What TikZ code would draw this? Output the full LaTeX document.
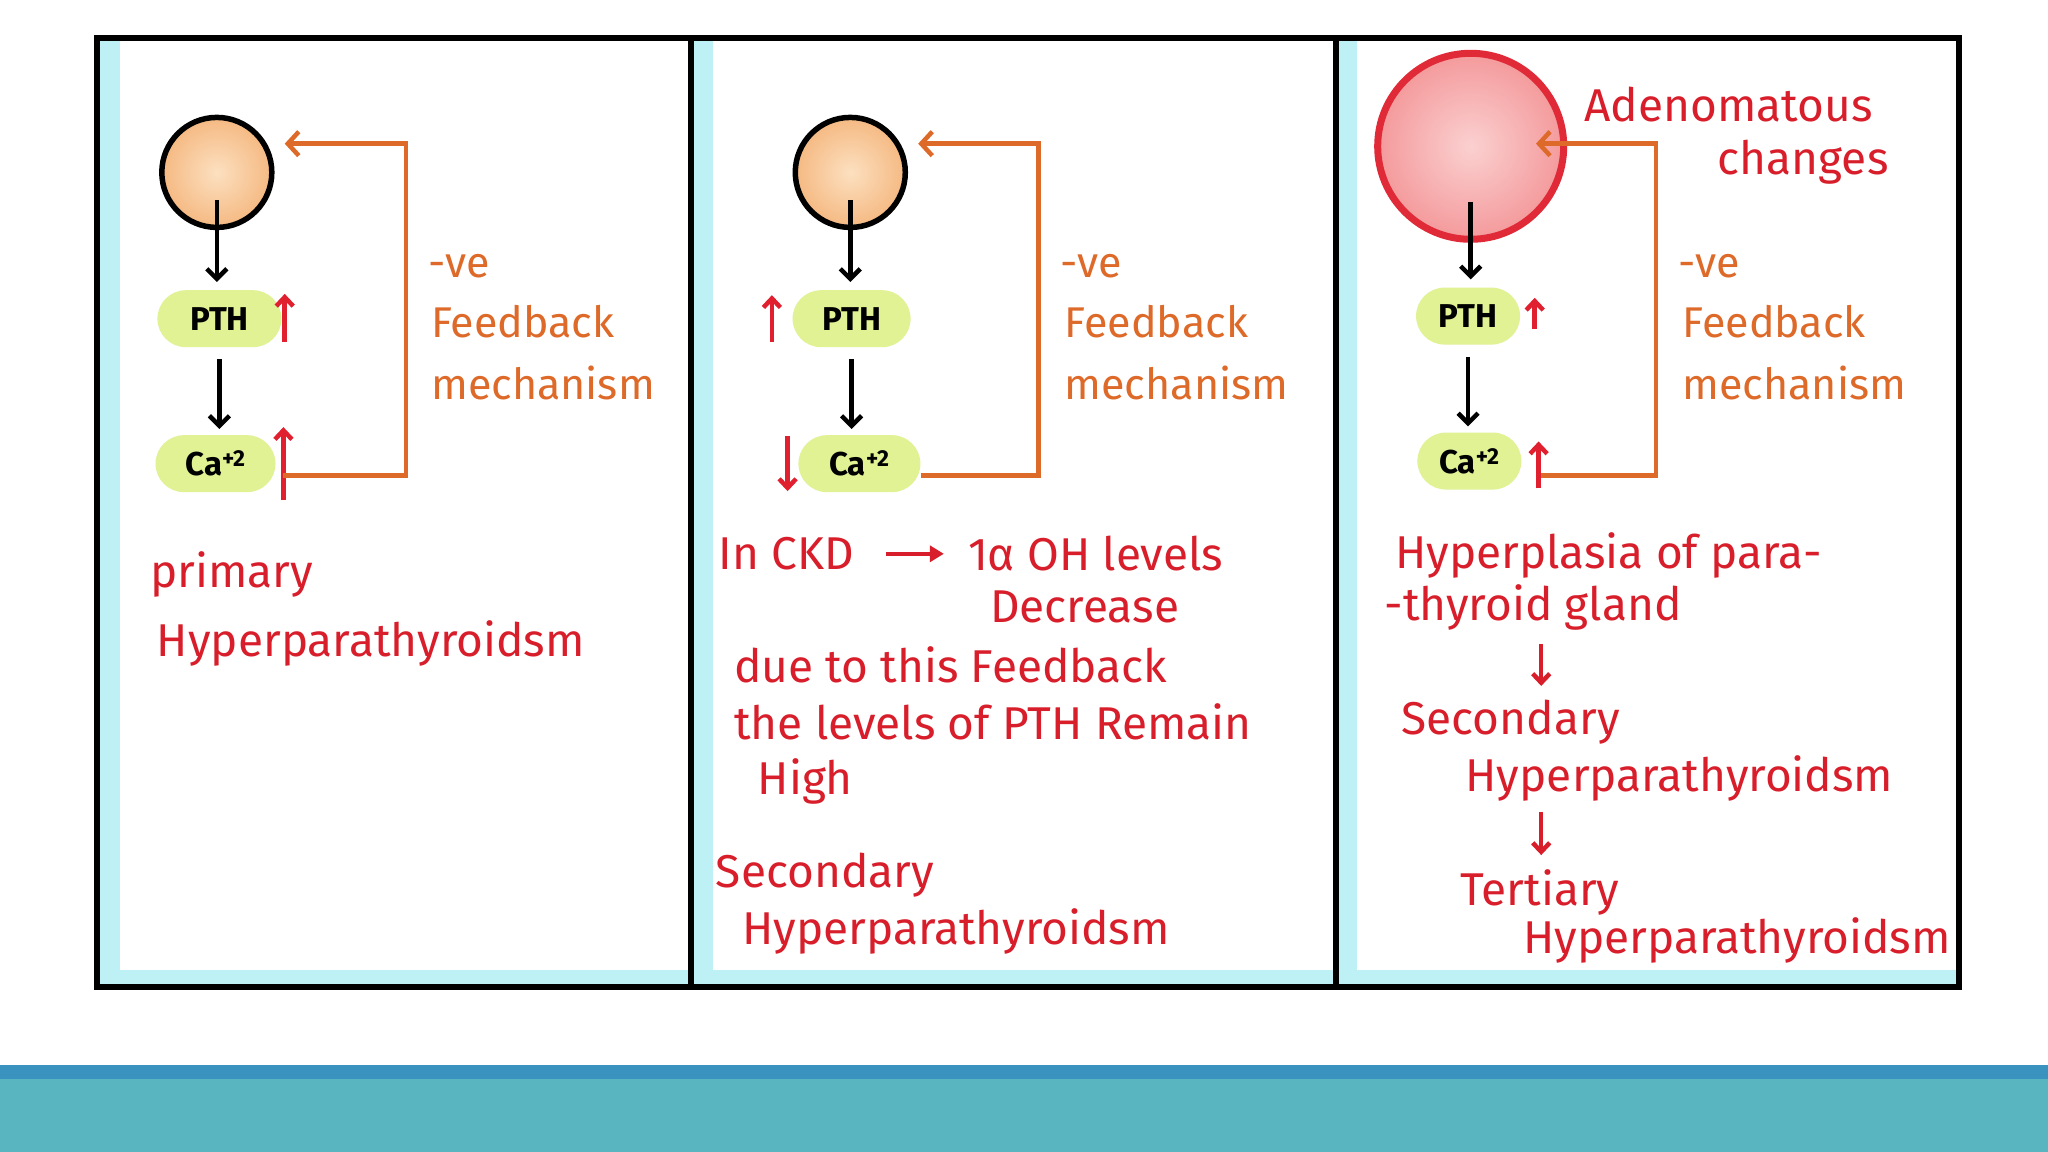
\documentclass[tikz,border=0pt]{standalone}
\usepackage{fontspec}
\setmainfont{Fira Sans}
\usetikzlibrary{arrows.meta,calc,shapes.misc}
\definecolor{redtxt}{HTML}{D81E2A}
\definecolor{redarr}{HTML}{E0202E}
\definecolor{orng}{HTML}{DE6A2A}
\definecolor{peachin}{HTML}{FCE0C0}
\definecolor{peachout}{HTML}{F5B982}
\definecolor{pinkin}{HTML}{FBD0D0}
\definecolor{pinkout}{HTML}{F49A9C}
\definecolor{redring}{HTML}{E02A38}
\definecolor{pillgreen}{HTML}{E0F294}
\definecolor{cyanstrip}{HTML}{BDF1F6}
\definecolor{banddark}{HTML}{3A92BE}
\definecolor{bandteal}{HTML}{59B5BF}
\tikzset{
  gland/.style={circle, draw=black, line width=5.5pt, minimum size=110pt, inner sep=0pt,
    inner color=peachin, outer color=peachout},
  pill/.style={rounded rectangle, fill=pillgreen, minimum height=57pt, inner sep=0pt,
    text=black, font=\fontsize{33}{36}\selectfont\bfseries},
  redt/.style={text=redtxt, font=\fontsize{46}{52}\selectfont, anchor=west, inner sep=0pt},
  orgt/.style={text=orng, font=\fontsize{43}{48}\selectfont, anchor=west, inner sep=0pt},
  blkarrow/.style={draw=black, line width=4.5pt, -{Straight Barb[length=10pt,width=20pt]}},
  redup/.style={draw=redarr, line width=4.5pt, -{Straight Barb[length=9pt,width=17pt]}},
  fbline/.style={draw=orng, line width=4.5pt, -{Straight Barb[length=11pt,width=24pt]}},
  redtarrow/.style={draw=redtxt, line width=4.5pt, -{Straight Barb[length=9pt,width=17pt]}},
  ckdarrow/.style={draw=redtxt, line width=4.5pt, -{Triangle[length=14pt,width=16pt]}},
}
\begin{document}
\begin{tikzpicture}[x=1.306pt,y=-1.306pt]
\useasboundingbox (0,0) rectangle (1568,882);
\fill[white] (0,0) rectangle (1568,882);
% bottom band
\fill[banddark] (0,815) rectangle (1568,826);
\fill[bandteal] (0,826) rectangle (1568,882);
% cyan strips
\fill[cyanstrip] (76,31) rectangle (92,754);
\fill[cyanstrip] (531,31) rectangle (546,754);
\fill[cyanstrip] (1025,31) rectangle (1039,754);
\fill[cyanstrip] (76,743) rectangle (1498,754);
% frame
\draw[line width=6pt] (74,29) rectangle (1500,756);
\draw[line width=6pt] (529,29) -- (529,756);
\draw[line width=6pt] (1023,29) -- (1023,756);

% ---------------- Panel 1
\node[gland] (g1) at (166,132) {};
\node[pill, minimum width=124pt] (pth1) at (168,244) {PTH};
\node[pill, minimum width=120pt] (ca1) at (165,355) {Ca\textsuperscript{+2}};
\draw[blkarrow] ([yshift=-28pt]g1.center) -- ([yshift=8pt]pth1.north -| g1.center);
\draw[blkarrow] ([yshift=-12pt]pth1.south) -- ([yshift=6pt]ca1.north -| pth1.south);
\coordinate (u1a) at (218,262); \coordinate (u1b) at (218,225);
\draw[redup] (u1a) -- (u1b);
\coordinate (u2a) at (217,383); \coordinate (u2b) at (217,327);
\draw[redup] (u2a) -- (u2b);
\coordinate (f1a) at (217,364); \coordinate (f1c) at (311,110); \coordinate (f1e) at (218,110);
\draw[fbline] (f1a) -| (f1c) -- (f1e);
\node[orgt] (ve1) at (328,204) {-ve};
\node[orgt] (fb1) at (330,246) {Feedback};
\node[orgt] (me1) at (330,293) {mechanism};
\node[redt] (pr1) at (115,440) {primary};
\node[redt] (hy1) at (120,493) {Hyperparathyroidsm};

% ---------------- Panel 2
\node[gland] (g2) at (651,132) {};
\node[pill, minimum width=118pt] (pth2) at (652,244) {PTH};
\node[pill, minimum width=122pt] (ca2) at (658,355) {Ca\textsuperscript{+2}};
\draw[blkarrow] ([yshift=-28pt]g2.center) -- ([yshift=8pt]pth2.north -| g2.center);
\draw[blkarrow] ([yshift=-12pt]pth2.south) -- ([yshift=6pt]ca2.north -| pth2.south);
\coordinate (u3a) at (591,262); \coordinate (u3b) at (591,226);
\draw[redup] (u3a) -- (u3b);
\coordinate (u4a) at (603,334); \coordinate (u4b) at (603,376);
\draw[redup] (u4a) -- (u4b);
\coordinate (f2c) at (795,110); \coordinate (f2e) at (703,110);
\draw[fbline] ([yshift=-12pt]ca2.east) -| (f2c) -- (f2e);
\node[orgt] (ve2) at (812,204) {-ve};
\node[orgt] (fb2) at (815,246) {Feedback};
\node[orgt] (me2) at (815,293) {mechanism};
\node[redt] (ckd) at (550,424) {In CKD};
\node[redt] (oh) at (741,424) {1α OH levels};
\draw[ckdarrow] ([xshift=32pt]ckd.east) -- ([xshift=-24pt]oh.west);
\node[redt] (dec) at (758,465) {Decrease};
\node[redt] (due) at (562,509) {due to this Feedback};
\node[redt] (lev) at (562,553) {the levels of PTH Remain};
\node[redt] (hig) at (580,598) {High};
\node[redt] (sec2) at (548,670) {Secondary};
\node[redt] (hy2) at (568,713) {Hyperparathyroidsm};

% ---------------- Panel 3
\node[circle, draw=redring, line width=7pt, minimum size=186pt, inner sep=0pt,
  inner color=pinkin, outer color=pinkout] (g3) at (1126,112) {};
\node[pill, minimum width=104pt] (pth3) at (1124,242) {PTH};
\node[pill, minimum width=104pt] (ca3) at (1125,353) {Ca\textsuperscript{+2}};
\draw[blkarrow] ([yshift=-56pt]g3.center) -- ([yshift=8pt]pth3.north -| g3.center);
\draw[blkarrow] ([yshift=-12pt]pth3.south) -- ([yshift=6pt]ca3.north -| pth3.south);
\coordinate (u5a) at (1175,252); \coordinate (u5b) at (1175,228);
\draw[redup] (u5a) -- (u5b);
\coordinate (u6a) at (1178,374); \coordinate (u6b) at (1178,338);
\draw[redup] (u6a) -- (u6b);
\coordinate (f3a) at (1180,364); \coordinate (f3c) at (1268,110); \coordinate (f3e) at (1176,110);
\draw[fbline] (f3a) -| (f3c) -- (f3e);
\node[redt] (ad) at (1213,80) {Adenomatous};
\node[redt] (ch) at (1315,124) {changes};
\node[orgt] (ve3) at (1285,204) {-ve};
\node[orgt] (fb3) at (1288,246) {Feedback};
\node[orgt] (me3) at (1288,293) {mechanism};
\node[redt] (hp1) at (1068,425) {Hyperplasia of para-};
\node[redt] (hp2) at (1060,465) {-thyroid gland};
\node[redt] (sec3) at (1073,553) {Secondary};
\node[redt] (hy3) at (1122,596) {Hyperparathyroidsm};
\node[redt] (ter) at (1118,683) {Tertiary};
\node[redt] (hy4) at (1166,720) {Hyperparathyroidsm};
\coordinate (ax) at (1180,0);
\draw[redtarrow] ([yshift=-14pt]hp2.south -| ax) -- ([yshift=14pt]sec3.north -| ax);
\draw[redtarrow] ([yshift=-10pt]hy3.south -| ax) -- ([yshift=14pt]ter.north -| ax);
\end{tikzpicture}
\end{document}
